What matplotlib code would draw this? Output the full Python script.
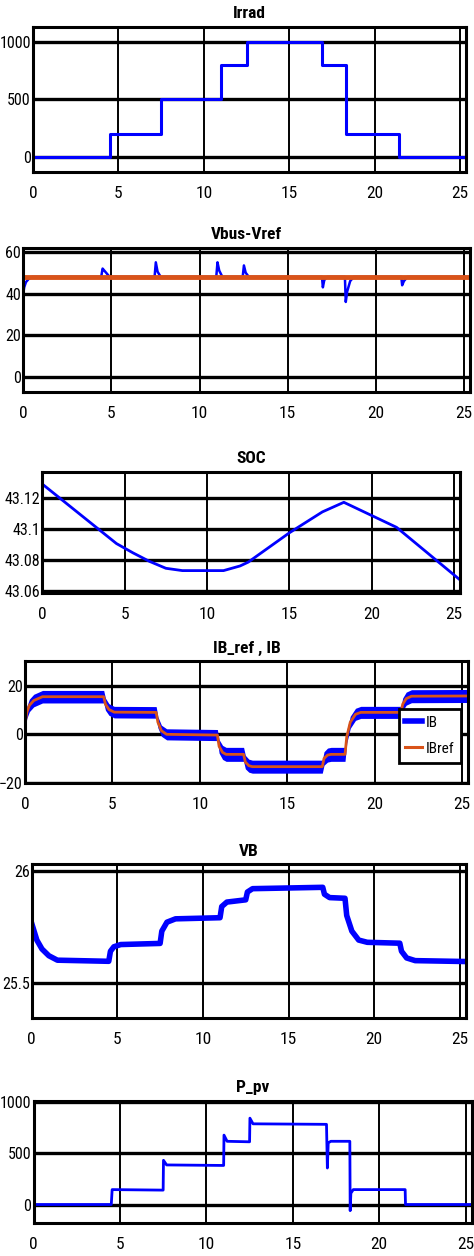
import matplotlib
matplotlib.use('Agg')
import matplotlib.pyplot as plt
from matplotlib import font_manager

# look for a narrow / condensed face, the reference uses a tall narrow font
narrow = None
for key in ['liberationsansnarrow-regular', 'robotocondensed-regular', 'opensans_condensed-regular',
            'opensanscondensed-regular', 'dejavusanscondensed.ttf']:
    for f in font_manager.fontManager.ttflist:
        if key in f.fname.lower().replace(' ', '').replace('_', ''):
            narrow = f
            break
    if narrow is not None:
        break
if narrow is None:
    for f in font_manager.fontManager.ttflist:
        low = f.fname.lower()
        if ('narrow' in low or 'condensed' in low) and not any(s in low for s in ['bold', 'oblique', 'italic']):
            narrow = f
            break

if narrow is not None:
    plt.rcParams['font.family'] = [narrow.name, 'DejaVu Sans']
    plt.rcParams['font.stretch'] = narrow.stretch
    FS_Y, FS_X, FS_T = 11.5, 12.5, 12.5
else:
    plt.rcParams['font.family'] = ['Liberation Sans', 'DejaVu Sans']
    FS_Y, FS_X, FS_T = 9.5, 11.5, 12

# time axis limits / ticks
t_end = 25.35
x_ticks = [0, 5, 10, 15, 20, 25]

# Irradiance steps
irr_t = [0, 4.5, 7.5, 11.0, 12.5, 16.9, 18.3, 21.4, t_end]
irr_v = [0, 200, 500, 800, 1000, 800, 200, 0, 0]

# Vbus and Vref
vbus_t = [0, 0, 0.05, 0.15, 0.3, 0.5, 4.42, 4.5, 4.6, 4.8, 4.95, 5.1, 7.45, 7.52, 7.62, 7.8,
          10.95, 11.02, 11.12, 11.3, 12.45, 12.52, 12.62, 12.8, 16.95, 17.0, 17.08, 17.25,
          18.25, 18.3, 18.38, 18.55, 18.75, 21.45, 21.5, 21.6, 21.8, t_end]
vbus_v = [0, 40, 43, 45.5, 47, 48, 48, 52, 51, 49, 47.5, 48, 48, 55, 50.5, 48,
          48, 55, 51, 48, 48, 53.5, 50, 48, 48, 43, 46.5, 48,
          48, 36, 41, 46, 48, 48, 44, 46, 48, 48]
vref_t = [0, t_end]
vref_v = [48, 48]

# SOC
soc_t = [0, 4.5, 5.5, 6.5, 7.5, 8.5, 11.0, 12.0, 12.5, 15.0, 17.0, 18.3, 21.5, t_end]
soc_v = [43.129, 43.0905, 43.0845, 43.079, 43.0745, 43.073, 43.073, 43.076, 43.0785, 43.0975, 43.111,
         43.1172, 43.101, 43.067]

# Battery current reference and ripple band of IB
ib_t = [0, 0.02, 0.1, 0.25, 0.5, 1.0, 4.5, 4.6, 4.8, 5.1, 7.5, 7.6, 7.8, 8.1, 11.0, 11.1, 11.3, 11.5,
        12.5, 12.6, 12.8, 13.0, 17.0, 17.1, 17.3, 17.5, 18.3, 18.4, 18.6, 18.9, 19.2, 21.5, 21.6, 21.8, 22.1, t_end]
ib_ref = [20, 5, 9, 12, 14, 15.6, 15.6, 12.5, 10.3, 9.2, 9.1, 5.0, 1.5, 0.0, -0.3, -5.0, -7.5, -8.3,
          -8.3, -11.5, -13.0, -13.4, -13.4, -10.0, -8.6, -8.3, -8.3, -1.0, 5.0, 8.3, 9.1, 9.1, 12.5, 14.8, 15.8, 15.9]
ib_band = [1.0, 2.0, 2.5, 2.6, 2.6, 2.6, 2.6, 2.5, 2.4, 2.4, 2.4, 2.3, 2.3, 2.3, 2.3, 2.8, 2.9, 2.9,
           2.9, 2.8, 2.7, 2.7, 2.7, 2.8, 2.9, 2.9, 2.9, 2.6, 2.5, 2.5, 2.5, 2.5, 2.6, 2.7, 2.7, 2.7]

# Battery voltage
vb_t = [0.02, 0.3, 0.6, 1.0, 1.5, 4.5, 4.6, 4.8, 5.2, 7.5, 7.6, 7.9, 8.4, 11.0, 11.1, 11.4, 12.5,
        12.6, 12.9, 17.0, 17.1, 17.4, 18.3, 18.4, 18.7, 19.1, 19.6, 21.5, 21.6, 21.9, 22.4, t_end]
vb_v = [25.76, 25.69, 25.65, 25.62, 25.60, 25.595, 25.64, 25.66, 25.67, 25.675, 25.73, 25.77, 25.785, 25.79,
        25.84, 25.86, 25.87, 25.905, 25.92, 25.926, 25.895, 25.88, 25.877, 25.80, 25.73, 25.69, 25.68,
        25.676, 25.64, 25.61, 25.598, 25.594]
vb_start = [26.0, 25.34]

# PV power
ppv_t = [0, 4.5, 4.55, 7.5, 7.52, 7.7, 11.0, 11.02, 11.2, 12.5, 12.52, 12.7, 16.95, 17.0, 17.05, 17.2,
         18.3, 18.32, 18.36, 18.5, 21.5, 21.52, t_end]
ppv_v = [0, 0, 145, 140, 430, 385, 380, 675, 615, 610, 840, 785, 780, 355, 600, 615,
         615, -60, 110, 145, 145, 0, 0]

BLUE = (0, 0, 1)
ORANGE = '#D95319'

W, H = 474, 1256
fig = plt.figure(figsize=(W / 100, H / 100), dpi=100)

def make_ax(l, r, t, b, title, ylim, yticks, ylabels=None):
    ax = fig.add_axes([l / W, 1 - b / H, (r - l) / W, (b - t) / H])
    ax.set_xlim(0, t_end)
    ax.set_ylim(*ylim)
    ax.set_xticks(x_ticks)
    ax.set_yticks(yticks)
    if ylabels is not None:
        ax.set_yticklabels(ylabels)
    ax.tick_params(axis='x', length=0, pad=10, labelsize=FS_X)
    ax.tick_params(axis='y', length=0, pad=1.5, labelsize=FS_Y)
    ax.set_title(title, fontsize=FS_T, fontweight='bold', pad=6)
    for s in ax.spines.values():
        s.set_linewidth(2.2)
        s.set_color('black')
    ax.set_axisbelow(True)
    ax.xaxis.grid(True, color='black', lw=1.4)
    ax.yaxis.grid(True, color='black', lw=2.4)
    return ax

ax1 = make_ax(33, 466, 26.7, 171.7, 'Irrad', (-130, 1130), [0, 500, 1000])
ax1.step(irr_t, irr_v, where='post', color=BLUE, lw=2.2)

ax2 = make_ax(23.3, 470, 247.7, 391.7, 'Vbus-Vref', (-7, 62), [0, 20, 40, 60])
ax2.plot(vbus_t, vbus_v, color=BLUE, lw=1.8)
ax2.plot(vref_t, vref_v, color=ORANGE, lw=3.5)

ax3 = make_ax(42.3, 460, 471.7, 592.7, 'SOC', (43.0587, 43.137), [43.06, 43.08, 43.1, 43.12],
              ['43.06', '43.08', '43.1', '43.12'])
ax3.plot(soc_t, soc_v, color=BLUE, lw=2.0)

ax4 = make_ax(25, 468.3, 661, 783.3, 'IB_ref , IB', (-20.3, 30.4), [-20, 0, 20])
ib_hi = [r + b for r, b in zip(ib_ref, ib_band)]
ib_lo = [r - b for r, b in zip(ib_ref, ib_band)]
ax4.fill_between(ib_t, ib_lo, ib_hi, color=BLUE, lw=0)
ax4.plot([0, 0], [-20.3, 30.4], color=BLUE, lw=1.2)
ax4.plot(ib_t, ib_ref, color=ORANGE, lw=2.0)
h_ib = plt.Line2D([], [], color=BLUE, lw=4)
h_ref = plt.Line2D([], [], color=ORANGE, lw=2.2)
leg = ax4.legend([h_ib, h_ref], ['IB', 'IBref'], loc='upper right', bbox_to_anchor=(0.983, 0.61),
                 fancybox=False, framealpha=1, edgecolor='black', fontsize=11,
                 handlelength=1.1, handletextpad=0.2, borderpad=0.45, labelspacing=0.8,
                 borderaxespad=0)
leg.get_frame().set_linewidth(2.0)

ax5 = make_ax(31.7, 465.7, 864.3, 1018.3, 'VB', (25.34, 26.029), [25.5, 26], ['25.5', '26'])
ax5.plot([0, 0], vb_start, color=BLUE, lw=1.2)
ax5.plot(vb_t, vb_v, color=BLUE, lw=4.0)

ax6 = make_ax(33.5, 471.7, 1100.7, 1222.7, 'P_pv', (-177, 1010), [0, 500, 1000])
ax6.plot(ppv_t, ppv_v, color=BLUE, lw=2.0)

fig.savefig('out.png', dpi=100)
